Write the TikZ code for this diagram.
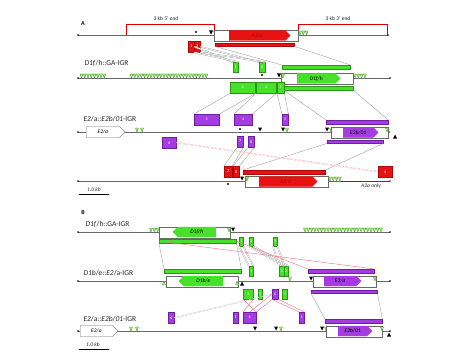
\documentclass[tikz,border=0pt]{standalone}
\usepackage{fontspec}
\setmainfont{Carlito}
\usetikzlibrary{shapes.symbols}
\definecolor{gfill}{RGB}{70,225,40}
\definecolor{gdraw}{RGB}{40,150,20}
\definecolor{pfill}{RGB}{165,60,225}
\definecolor{pdraw}{RGB}{110,30,160}
\definecolor{rfill}{RGB}{232,18,18}
\definecolor{rdraw}{RGB}{170,10,10}
\definecolor{chrcol}{RGB}{105,105,105}
\definecolor{linkcol}{RGB}{160,160,160}
\definecolor{pinkcol}{RGB}{240,120,140}
\definecolor{trifill}{RGB}{170,235,130}
\definecolor{tridraw}{RGB}{60,150,30}
\newcommand\bx[7]{\node[#1, minimum width={#5pt-#3pt}, minimum height={#6pt-#4pt}] (#2) at (#3,#4) {#7};}
\newcommand\gtd[2]{\filldraw[gtri] (#1-1.5,#2-4) -- (#1+1.5,#2-4) -- (#1,#2) -- cycle;}
\newcommand\gtup[2]{\filldraw[gtri] (#1-1.5,#2+4) -- (#1+1.5,#2+4) -- (#1,#2) -- cycle;}
\newcommand\btd[2]{\fill[black] (#1-2,#2-4.5) -- (#1+2,#2-4.5) -- (#1,#2-0.5) -- cycle;}
\newcommand\btu[2]{\fill[black] (#1-2,#2+4.5) -- (#1+2,#2+4.5) -- (#1,#2+0.5) -- cycle;}
\newcommand\astdot[2]{\fill[black] (#1,#2) circle (1.1);}
\tikzset{
  box/.style={anchor=north west, inner sep=0pt, font=\fontsize{4}{4}\selectfont, text=white, line width=0.4pt},
  gbox/.style={box, fill=gfill, draw=gdraw},
  pbox/.style={box, fill=pfill, draw=pdraw},
  rbox/.style={box, fill=rfill, draw=rdraw},
  outl/.style={box, draw=chrcol, fill=white, line width=0.5pt},
  chr/.style={draw=chrcol, line width=0.8pt},
  gtri/.style={fill=trifill, draw=tridraw, line width=0.3pt},
  link/.style={draw=linkcol, line width=0.4pt},
  hlink/.style={draw=linkcol, double=white, double distance=0.7pt, line width=0.35pt},
  plink/.style={draw=pinkcol, line width=0.45pt},
  pband/.style={draw=pinkcol, double=white, double distance=0.7pt, line width=0.35pt, densely dotted},
  brk/.style={draw=red!85!black, line width=0.7pt},
  lab/.style={anchor=base west, font=\fontsize{7.5}{7.5}\selectfont, text=black!85},
  small/.style={font=\fontsize{5.5}{5.5}\selectfont, text=black!85},
  gene/.style={signal, inner sep=0pt, line width=0.4pt, font=\fontsize{5.5}{5.5}\selectfont\itshape, anchor=west},
}
\begin{document}
\begin{tikzpicture}[x=1pt,y=-1pt]
\useasboundingbox (0,0) rectangle (474,361);
\fill[white] (0,0) rectangle (474,361);

% ================= Panel A =================
\node[font=\fontsize{6}{6}\selectfont\bfseries] (labA) at (83,24) {A};
% line A1
\coordinate (a1s) at (78,35); \coordinate (a1e) at (388,35);
\draw[chr] (a1s) -- (a1e);
\fill (a1s) circle (0.9); \fill (a1e) circle (0.9);
\draw[brk] (126,35) -- (126,24) -- (214,24) -- (214,35);
\draw[brk] (298,35) -- (298,24) -- (387,24) -- (387,35);
\node[small] (t5) at (166,19) {3 kb 5' end};
\node[small] (t3) at (338,19) {3 kb 3' end};
\astdot{196}{32}
\btd{211}{35}
\gtd{215}{35}
\bx{outl}{oA1}{214}{30}{298}{41}{}
\node[gene, signal to=east, fill=rfill, draw=rfill, minimum width=61pt, minimum height=10pt, text=rdraw] (A2a1) at (229,35.5) {A2/a};
\foreach \i in {0,1,2} {\gtd{300+\i*3.3}{35}}
\bx{rbox}{rbar}{215}{43}{294}{46}{}
\bx{rbox}{r1}{188}{41}{194}{52}{1}
\bx{rbox}{r2}{194}{41}{200}{52}{2}

% line D1f (A)
\node[lab] (labD1) at (81,66) {\textit{D1f}/h::GA-IGR};
\coordinate (d1s) at (78,78); \coordinate (d1e) at (390,78);
\draw[chr] (d1s) -- (d1e);
\fill (d1s) circle (0.9); \fill (d1e) circle (0.9);
\foreach \i in {0,...,7} {\gtd{81.5+\i*3.25}{78}}
\foreach \i in {0,...,23} {\gtd{131.5+\i*3.25}{78}}
\bx{gbox}{g1}{233}{62}{238}{72}{1}
\bx{gbox}{g2}{259}{62}{265}{72}{2}
\astdot{262}{75}
\bx{gbox}{gbarT}{282}{65}{350}{69}{}
\btd{279}{78}
\bx{outl}{oD1}{281}{73}{353}{84}{}
\gtd{283}{78}
\node[gene, signal to=east, fill=gfill, draw=gfill, minimum width=43pt, minimum height=10pt, text=black] (D1fA) at (297,78.5) {D1f/h};
\foreach \i in {0,...,3} {\gtd{355+\i*3.3}{78}}
\bx{gbox}{gbarB}{284}{86}{353}{90}{}
\bx{gbox}{g3}{230}{82}{255}{93}{3}
\bx{gbox}{g4}{256}{82}{276}{93}{4}
\bx{gbox}{g5}{277}{82}{284}{93}{5}

% line E2 (A)
\node[lab] (labE2) at (80,121.5) {\textit{E2}/a::\textit{E2b}/\textit{01}-IGR};
\coordinate (e2s) at (78,132); \coordinate (e2e) at (389,132);
\draw[chr] (e2s) -- (e2e);
\fill (e2s) circle (0.9); \fill (e2e) circle (0.9);
\node[gene, signal to=east, fill=white, draw=chrcol, minimum width=39pt, minimum height=11pt, text=black] (E2aA) at (86,132) {E2/a};
\gtd{137}{132} \gtd{142}{132}
\bx{pbox}{p3}{194}{114}{219}{125}{3}
\bx{pbox}{p4}{234}{114}{252}{125}{4}
\bx{pbox}{p5}{282}{114}{288}{125}{5}
\astdot{240}{129}
\btd{260}{132}
\btd{283}{132} \gtd{287}{132}
\bx{pbox}{pbarT}{326}{120}{388}{124}{}
\btd{327}{132} \gtd{331}{132}
\bx{outl}{oE2}{331}{127}{388}{138}{}
\node[gene, signal to=east, fill=pfill, draw=pfill, minimum width=35pt, minimum height=10pt, text=black] (E2bA) at (343,132.5) {E2b/01};
\gtd{387}{132}
\btu{395}{134}
\bx{pbox}{pbarB}{327}{140}{383}{143}{}
\bx{pbox}{p6}{162}{137}{176}{148}{6}
\bx{pbox}{p7}{237}{136}{243}{147}{7}
\bx{pbox}{p8}{248}{136}{254}{147}{8}

% line A2a (A)
\coordinate (a2s) at (78,181); \coordinate (a2m) at (341,181); \coordinate (a2e) at (390,181);
\draw[chr] (a2s) -- (a2m);
\draw[draw=red!85!black, line width=0.8pt] (a2m) -- (a2e);
\fill (a2s) circle (0.9); \fill[red!85!black] (a2e) circle (0.9);
\node[small] (onlyA) at (371,186.5) {\textit{A2a} only};
\bx{rbox}{r7}{224}{166}{232}{177}{7}
\bx{rbox}{r8}{233}{166}{239}{177}{8}
\bx{rbox}{r6}{378}{166}{392}{177}{6}
\astdot{228}{184}
\bx{rbox}{rbar2}{243}{170}{325}{174}{}
\btd{242}{181}
\bx{outl}{oA2}{245}{176}{328}{187}{}
\gtd{247}{181}
\node[gene, signal to=east, fill=rfill, draw=rfill, minimum width=58pt, minimum height=10pt, text=rdraw] (A2a2) at (259,181.5) {A2/a};
\foreach \i in {0,...,3} {\gtd{330+\i*3.3}{181}}
% scale bar
\coordinate (sbA1) at (79,194); \coordinate (sbA2) at (109,194);
\draw[line width=0.9pt] (sbA1) -- (sbA2);
\node[small, font=\fontsize{5.5}{5.5}\selectfont\itshape] (sbAt) at (94,190) {1.0 kb};

% links A
\draw[hlink] (r1.east) -- (g1.north west);
\draw[hlink] (r1.south east) -- (g1.north east);
\draw[hlink] (r2.east) -- (g2.north west);
\draw[hlink] (r2.south east) -- (g2.north east);
\draw[link] (rbar.south west) -- (gbarT.north west);
\draw[link] (rbar.south east) -- (gbarT.north east);
\draw[link] (g3.south west) -- (p3.north west);
\draw[link] (g3.south east) -- (p3.north east);
\draw[link] (g4.south west) -- (p4.north west);
\draw[link] (g4.south east) -- (p4.north east);
\draw[link] (g5.south west) -- (p5.north west);
\draw[link] (g5.south east) -- (p5.north east);
\draw[link] (gbarB.south west) -- (pbarT.north west);
\draw[link] (gbarB.south east) -- (pbarT.north east);
\draw[link] (p7.south west) -- (r7.north west);
\draw[link] (p7.south east) -- (r7.north east);
\draw[link] (p8.south west) -- (r8.north west);
\draw[link] (p8.south east) -- (r8.north east);
\draw[link] (pbarB.south west) -- (rbar2.north west);
\draw[link] (pbarB.south east) -- (rbar2.north east);
\draw[pband] (p6.east) -- (r6.west);

% ================= Panel B =================
\node[font=\fontsize{6}{6}\selectfont\bfseries] (labB) at (83,212.5) {B};
% D1f (B)
\node[lab] (labD1B) at (82,226.5) {\textit{D1f}/h::GA-IGR};
\coordinate (b1s) at (78,232); \coordinate (b1e) at (390,232);
\draw[chr] (b1s) -- (b1e);
\fill (b1s) circle (0.9); \fill (b1e) circle (0.9);
\foreach \i in {0,1,2} {\gtd{151+\i*3.3}{232}}
\bx{outl}{oB1}{159}{226.5}{230}{237.5}{}
\node[gene, signal to=west, fill=gfill, draw=gfill, minimum width=43pt, minimum height=10pt, text=black, anchor=east] (D1fB) at (216,232) {D1f/h};
\gtd{229}{232}
\btd{233}{232}
\foreach \i in {0,...,23} {\gtd{305+\i*3.3}{232}}
\bx{gbox}{gbarB1}{159}{239}{236}{243}{}
\bx{gbox}{h1}{239}{237}{243}{246}{1}
\bx{gbox}{h2}{249}{237}{253}{246}{2}
\bx{gbox}{h3}{273}{237}{277}{246}{3}

% D1b (B)
\node[lab] (labD1bB) at (80,275) {\textit{D1b}/e::\textit{E2}/a-IGR};
\coordinate (b2s) at (78,281); \coordinate (b2e) at (390,281);
\draw[chr] (b2s) -- (b2e);
\fill (b2s) circle (0.9); \fill (b2e) circle (0.9);
\bx{gbox}{gbarB2}{164}{269}{241}{273}{}
\bx{outl}{oB2}{166}{275.5}{238}{286.5}{}
\node[gene, signal to=west, fill=gfill, draw=gfill, minimum width=44pt, minimum height=10pt, text=black, anchor=east] (D1bB) at (223,281) {D1b/e};
\gtup{164}{281} \gtup{237}{281}
\btu{242}{281}
\bx{gbox}{k1}{249}{266}{253}{276}{1}
\bx{gbox}{k3}{279}{266}{284}{276}{3}
\bx{gbox}{k2}{284}{266}{288}{276}{2}
\gtd{290}{281}
\bx{pbox}{qbarT}{308}{269}{374}{273}{}
\btd{311}{281} \gtd{314}{281}
\bx{outl}{oB3}{313}{275.5}{376}{286.5}{}
\node[gene, signal to=east, fill=pfill, draw=pfill, minimum width=37pt, minimum height=10pt, text=black] (E2aB) at (324,281) {E2/a};
\gtd{375}{281}
\bx{pbox}{qbarB}{311}{290}{377}{293}{}
% middle row
\bx{gbox}{m4}{243}{289}{253}{299}{4}
\bx{gbox}{m5}{258}{289}{262}{299}{5}
\bx{pbox}{m6}{272}{289}{278}{299}{6}
\bx{gbox}{m7}{282}{289}{287}{299}{7}

% E2 (B)
\node[lab] (labE2B) at (80,321) {\textit{E2}/a::\textit{E2b}/\textit{01}-IGR};
\coordinate (b3s) at (78,331); \coordinate (b3e) at (390,331);
\draw[chr] (b3s) -- (b3e);
\fill (b3s) circle (0.9); \fill (b3e) circle (0.9);
\node[gene, signal to=east, fill=white, draw=chrcol, minimum width=38pt, minimum height=11pt, text=black] (E2aB2) at (80,331) {E2/a};
\gtd{131}{331} \gtd{137}{331}
\bx{pbox}{n6}{168}{312}{174}{323}{6}
\bx{pbox}{n7}{233}{312}{238}{323}{7}
\bx{pbox}{n4}{243}{312}{256}{323}{4}
\bx{pbox}{n5}{299}{312}{304}{323}{5}
\btd{255}{331} \btd{276}{331} \gtd{281}{331}
\bx{pbox}{qbar2}{325}{319}{382}{323}{}
\btd{322}{331} \gtd{326}{331}
\bx{outl}{oB4}{326}{325.5}{382}{336.5}{}
\node[gene, signal to=east, fill=pfill, draw=pfill, minimum width=34pt, minimum height=10pt, text=black] (E2bB) at (338,331) {E2b/01};
\gtd{382}{331}
\btu{389}{332}
\coordinate (sbB1) at (79,349); \coordinate (sbB2) at (109,349);
\draw[line width=0.9pt] (sbB1) -- (sbB2);
\node[small, font=\fontsize{5.5}{5.5}\selectfont\itshape] (sbBt) at (93,344.5) {1.0 kb};

% links B
\draw[link] (gbarB1.south west) -- (gbarB2.north west);
\draw[link] (gbarB1.south east) -- (gbarB2.north east);
\draw[hlink] (h1.south west) -- (k1.north west);
\draw[hlink] (h1.south east) -- (k1.north east);
\draw[hlink] (h2.south west) -- (k2.north west);
\draw[hlink] (h2.south east) -- (k2.north east);
\draw[hlink] (h3.south west) -- (k3.north west);
\draw[hlink] (h3.south east) -- (k3.north east);
\draw[plink] (gbarB1.west) -- (qbarT.north east);
\draw[plink] (gbarB1.east) -- (qbarT.north west);
\draw[link] (qbarB.south west) -- (qbar2.north west);
\draw[link] (qbarB.south east) -- (qbar2.north east);
\draw[hlink, densely dotted] (n6.east) -- (m6.west);
\draw[plink] (m4.south west) -- (n4.north east);
\draw[plink] (m4.south east) -- (n4.north west);
\draw[plink] (m6.south west) -- (n4.north east);
\draw[plink] (m6.west) -- (n4.north);
\draw[plink] (m6.south west) -- (n5.north west);
\draw[plink] (m6.south east) -- (n5.north east);
\end{tikzpicture}
\end{document}
